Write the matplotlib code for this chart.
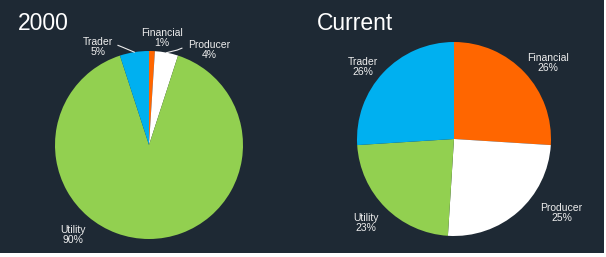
import matplotlib
matplotlib.use("Agg")
import matplotlib.pyplot as plt
from matplotlib.patches import Rectangle
import numpy as np

plt.rcParams['font.family'] = ['Liberation Sans', 'DejaVu Sans']

categories = ["Financial", "Producer", "Utility", "Trader"]
share_2000 = [1, 4, 90, 5]
share_current = [26, 25, 23, 26]
titles = ["2000", "Current"]
colors = ["#ff6600", "#ffffff", "#92d050", "#00b0f0"]

W, H = 606, 257
BG = "#1e2934"

fig = plt.figure(figsize=(W / 100, H / 100), dpi=100, facecolor="white")
fig.patches.append(Rectangle((0, 1 - 253 / H), 604 / W, 253 / H,
                             transform=fig.transFigure, facecolor=BG,
                             edgecolor="none", zorder=-10))

HALF = 150

def pie_axes(cx, cy):
    ax = fig.add_axes([(cx - HALF) / W, (H - cy - HALF) / H, 2 * HALF / W, 2 * HALF / H])
    ax.set_axis_off()
    ax.patch.set_visible(False)
    return ax

# label positions (in pie radius units), relative to pie centre
lab_2000 = [(0.14, 1.14), (0.64, 1.01), (-0.81, -0.96), (-0.54, 1.04)]
lab_cur = [(0.97, 0.78), (1.11, -0.76), (-0.91, -0.87), (-0.94, 0.74)]

def draw(ax, vals, labpos, leaders, r):
    wedges, _ = ax.pie(vals, colors=colors, startangle=90, counterclock=False,
                       radius=1.0, center=(0, 0),
                       wedgeprops=dict(linewidth=0, antialiased=True))
    s = HALF / r
    ax.set_aspect("auto")
    ax.set_xlim(-s, s)
    ax.set_ylim(-s, s)
    for i, (w, (lx, ly)) in enumerate(zip(wedges, labpos)):
        ax.text(lx, ly, f"{categories[i]}\n{vals[i]}%", ha="center", va="center",
                color="#eeeeee", fontsize=7.5, linespacing=1.0, clip_on=False)
        if leaders[i]:
            th = np.deg2rad((w.theta1 + w.theta2) / 2)
            ex, ey = np.cos(th), np.sin(th)
            sx = lx + (0.21 if lx < 0 else -0.29)
            ax.plot([sx, sx + (0.05 if lx < 0 else -0.05), ex * 1.0],
                    [ly + 0.02, ly - 0.0, ey * 1.0],
                    color="#eeeeee", lw=0.8, clip_on=False)

ax1 = pie_axes(149, 145)
draw(ax1, share_2000, lab_2000, [False, True, False, True], 94)
ax2 = pie_axes(454, 139)
draw(ax2, share_current, lab_cur, [False, False, False, False], 97)

fig.text(18 / W, 1 - 23 / H, titles[0], color="white", fontsize=16.5, ha="left", va="center")
fig.text(317 / W, 1 - 23 / H, titles[1], color="white", fontsize=16.5, ha="left", va="center")

fig.savefig("out.png", dpi=100, facecolor="white")
